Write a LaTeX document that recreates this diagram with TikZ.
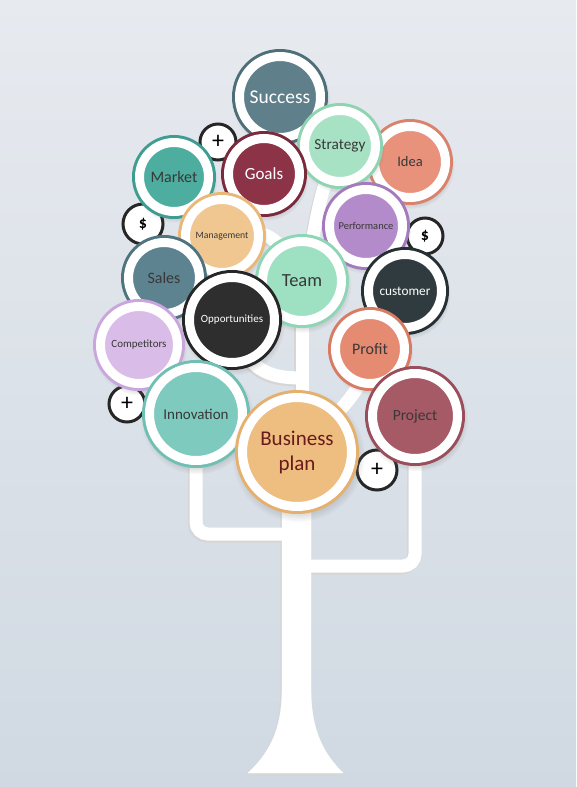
\documentclass[tikz,border=0pt]{standalone}
\usepackage{fontspec}
\setmainfont{Carlito}
\usetikzlibrary{shadows}

\definecolor{bgtop}{HTML}{E7EAEF}
\definecolor{bgbot}{HTML}{D0D9E2}
\definecolor{txt}{HTML}{383838}
\definecolor{bizred}{HTML}{6A1A1A}
% inner disk / outer ring colours
\definecolor{successin}{HTML}{5F808B}\definecolor{successring}{HTML}{4E6E78}
\definecolor{strategyin}{HTML}{A8E2C4}\definecolor{strategyring}{HTML}{8FD4B0}
\definecolor{ideain}{HTML}{E8917B}\definecolor{idearing}{HTML}{D9826C}
\definecolor{marketin}{HTML}{4DAEA0}\definecolor{marketring}{HTML}{3E9D90}
\definecolor{goalsin}{HTML}{8C3347}\definecolor{goalsring}{HTML}{7A2A3C}
\definecolor{perfin}{HTML}{B48BCA}\definecolor{perfring}{HTML}{A57ABD}
\definecolor{mgmtin}{HTML}{F1C791}\definecolor{mgmtring}{HTML}{E9B777}
\definecolor{salesin}{HTML}{5E8390}\definecolor{salesring}{HTML}{4F7480}
\definecolor{teamin}{HTML}{9EE0C2}\definecolor{teamring}{HTML}{8ED6B5}
\definecolor{custin}{HTML}{2F3B3E}\definecolor{custring}{HTML}{253033}
\definecolor{oppin}{HTML}{2E2E2E}\definecolor{oppring}{HTML}{262626}
\definecolor{compin}{HTML}{D9BCE8}\definecolor{compring}{HTML}{C9A6DC}
\definecolor{profitin}{HTML}{E58B72}\definecolor{profitring}{HTML}{D97B62}
\definecolor{innovin}{HTML}{7ECABF}\definecolor{innovring}{HTML}{6FC0B3}
\definecolor{bizin}{HTML}{EDBE80}\definecolor{bizring}{HTML}{E5B06E}
\definecolor{projin}{HTML}{A55A66}\definecolor{projring}{HTML}{9A4D5A}

\pgfdeclarelayer{bg}
\pgfdeclarelayer{tree}
\pgfsetlayers{bg,tree,main}

\tikzset{
  bubble/.style n args={3}{circle, inner sep=0pt, minimum size=#1, fill=#2,
    draw=white, line width=9pt,
    circular drop shadow={shadow xshift=1pt, shadow yshift=-3pt, shadow scale=1.22, opacity=0.3},
    preaction={draw=#3, line width=15pt}, text=txt, align=center},
  sign/.style={circle, inner sep=0pt, minimum size=#1, fill=white, draw=black!85,
    line width=3pt, text=black, font=\fontsize{24}{24}\selectfont},
  dollar/.style={font=\bfseries\fontsize{16}{16}\selectfont},
  limb/.style={line width=13pt, rounded corners=12pt},
  treeshadow/.style={draw=black!16, fill=black!16, transform canvas={xshift=-1.5pt,yshift=-2pt}},
  treewhite/.style={draw=white, fill=white}
}

% the whole tree, drawn once as shadow and once in white
\newcommand\drawtree[1]{%
	% the trunk
	\fill[#1] (282,480) -- (282,690) .. controls (282,735) and (265,757) .. (248,773)
		-- (343,773) .. controls (327,757) and (311,735) .. (311,690) -- (311,480) -- cycle;
	% lower branches
	\draw[#1, fill=none, limb] (innovation.center) |- (lfork);
	\draw[#1, fill=none, limb] (project.center) |- (rfork);
	% the stem through the crown
	\draw[#1, fill=none, limb] (team.center) -- (team |- business.center);
	\draw[#1, fill=none, limb] (opportunities.center) .. controls (245,372) and (270,378) .. (oppfork);
	\draw[#1, fill=none, limb] (profit.center) .. controls (362,395) and (345,405) .. (business.center);
	\draw[#1, fill=none, limb] (management.center) .. controls (272,230) .. (team.center);
	\draw[#1, fill=none, limb] (strategy.center) .. controls (314,200) and (318,230) .. (team.center);
}

\begin{document}
\begin{tikzpicture}[x=1pt,y=-1pt]
	\useasboundingbox (0,0) rectangle (576,787);
	\begin{pgfonlayer}{bg}
		\shade[top color=bgtop, bottom color=bgbot] (0,0) rectangle (576,787);
	\end{pgfonlayer}

	% the small signs
	\node[sign=36pt] (plusa) at (218,142) {+};
	\node[sign=40pt, dollar] (dollara) at (143,224) {\$};
	\node[sign=36pt, dollar] (dollarb) at (425,236) {\$};
	\node[sign=36pt] (plusb) at (127,404) {+};
	\node[sign=40pt] (plusc) at (377,470) {+};

	% the bubbles, back to front
	\node[bubble={71pt}{ideain}{idearing}, font=\fontsize{14.5}{16}\selectfont] (idea) at (410,162) {Idea};
	\node[bubble={81pt}{successin}{successring}, text=white, font=\fontsize{19.5}{21}\selectfont] (success) at (280,97) {Success};
	\node[bubble={71pt}{strategyin}{strategyring}, font=\fontsize{15.3}{17}\selectfont] (strategy) at (340,146) {Strategy};
	\node[bubble={71pt}{goalsin}{goalsring}, text=white, font=\fontsize{17}{19}\selectfont] (goals) at (264,174) {Goals};
	\node[bubble={69pt}{marketin}{marketring}, font=\fontsize{16}{18}\selectfont] (market) at (174,177) {Market};
	\node[bubble={73pt}{perfin}{perfring}, font=\fontsize{10.5}{12}\selectfont] (performance) at (366,226) {Performance};
	\node[bubble={73pt}{mgmtin}{mgmtring}, font=\fontsize{9.7}{11}\selectfont] (management) at (222,236) {Management};
	\node[bubble={73pt}{custin}{custring}, text=white, font=\fontsize{13.3}{15}\selectfont] (customer) at (405,291) {customer};
	\node[bubble={71pt}{salesin}{salesring}, font=\fontsize{16}{18}\selectfont] (sales) at (164,278) {Sales};
	\node[bubble={79pt}{teamin}{teamring}, font=\fontsize{18.5}{20}\selectfont] (team) at (302,281) {Team};
	\node[bubble={77pt}{compin}{compring}, font=\fontsize{11}{13}\selectfont] (competitors) at (139,345) {Competitors};
	\node[bubble={85pt}{oppin}{oppring}, text=white, font=\fontsize{11}{13}\selectfont] (opportunities) at (232,320) {Opportunities};
	\node[bubble={69pt}{profitin}{profitring}, font=\fontsize{16}{18}\selectfont] (profit) at (370,349) {Profit};
	\node[bubble={93pt}{innovin}{innovring}, font=\fontsize{15}{17}\selectfont] (innovation) at (196,414) {Innovation};
	\node[bubble={85pt}{projin}{projring}, font=\fontsize{15.5}{17}\selectfont] (project) at (415,416) {Project};
	\node[bubble={109pt}{bizin}{bizring}, text=bizred, font=\fontsize{21}{25}\selectfont] (business) at (297,452) {Business\\plan};

	% where the branches meet the trunk
	\coordinate (lfork) at (296,534);
	\coordinate (rfork) at (296,566);
	\coordinate (oppfork) at (302,378);

	\begin{pgfonlayer}{tree}
		\drawtree{treeshadow}
		\drawtree{treewhite}
	\end{pgfonlayer}
\end{tikzpicture}
\end{document}
